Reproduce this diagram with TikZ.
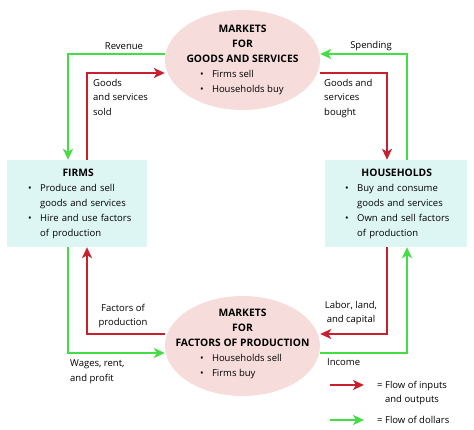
\documentclass[tikz,border=0pt]{standalone}
\usepackage{fontspec}
\setmainfont{Open Sans}
\usetikzlibrary{shapes.geometric, arrows.meta, positioning, calc}
\definecolor{flowred}{HTML}{C8202F}
\definecolor{flowgreen}{HTML}{45DD45}
\definecolor{mktpink}{HTML}{F7DCDC}
\definecolor{boxcyan}{HTML}{DDF6F4}
\newcommand{\mkbul}{\makebox[12pt][l]{\textbullet}}
\newcommand{\mkind}{\hspace*{12pt}}
\newcommand{\mkhead}[1]{{\fontsize{10.3}{15}\selectfont\bfseries #1}}

\begin{document}
\begin{tikzpicture}[x=1pt, y=-1pt,
    mkt/.style={ellipse, fill=mktpink, minimum width=155pt,
                minimum height=100pt, inner sep=0pt},
    mkttext/.style={align=center, inner sep=0pt,
                font=\fontsize{9.5}{15}\selectfont},
    agent/.style={fill=boxcyan, minimum width=140pt, minimum height=87pt,
                inner sep=0pt},
    agenttext/.style={anchor=west, inner sep=0pt, align=left,
                text width=120pt, font=\fontsize{9.5}{15}\selectfont},
    lbl/.style={inner sep=0pt, font=\fontsize{9.5}{14.5}\selectfont},
    goods/.style={draw=flowred, line width=2.6pt,
                -{Stealth[length=11pt, width=10pt, inset=3pt]}},
    dollar/.style={draw=flowgreen, line width=2.6pt,
                -{Stealth[length=11pt, width=10pt, inset=3pt]}}
  ]
    \useasboundingbox (0,0) rectangle (474,430);
    % markets
    \node[mkt] (gsmkt) at (242.5,60) {};
    \node[mkttext] (gstxt) at (gsmkt.center)
      {\mkhead{MARKETS}\\\mkhead{FOR}\\\mkhead{GOODS AND SERVICES}\\
       \makebox[85pt][l]{\mkbul Firms sell}\\
       \makebox[85pt][l]{\mkbul Households buy}};
    \node[mkt] (fpmkt) at (242.5,346) {};
    \node[mkttext] (fptxt) at (242.5,344)
      {\mkhead{MARKETS}\\\mkhead{FOR}\\\mkhead{FACTORS OF PRODUCTION}\\
       \makebox[85pt][l]{\mkbul Households sell}\\
       \makebox[85pt][l]{\mkbul Firms buy}};
    % agents
    \node[agent] (firms) at (77,203.5) {};
    \node[agenttext] (firmstxt) at (28,203.5)
      {\makebox[100pt]{\mkhead{FIRMS}}\\
       \mkbul Produce and sell\\\mkind goods and services\\
       \mkbul Hire and use factors\\\mkind of production};
    \node[agent, minimum width=142pt] (hhold) at (396,203.5) {};
    \node[agenttext] (hholdtxt) at (345,203.5)
      {\makebox[103pt]{\mkhead{HOUSEHOLDS}}\\
       \mkbul Buy and consume\\\mkind goods and services\\
       \mkbul Own and sell factors\\\mkind of production};
    % flows
    \draw[dollar] (gsmkt.west |- 0,54) -| (firms.north -| 68,0);
    \draw[goods] (firms.north -| 87,0) |- (gsmkt.west |- 0,73);
    \draw[dollar] (hhold.north -| 407,0) |- (gsmkt.east |- 0,54);
    \draw[goods] (gsmkt.east |- 0,73) -| (hhold.north -| 387,0);
    \draw[goods] (fpmkt.west |- 0,334) -| (firms.south -| 87,0);
    \draw[dollar] (firms.south -| 68,0) |- (fpmkt.west |- 0,353);
    \draw[goods] (hhold.south -| 387,0) |- (fpmkt.east |- 0,334);
    \draw[dollar] (fpmkt.east |- 0,353) -| (hhold.south -| 407,0);
    % labels
    \node[lbl] (revlbl) at (124,46) {Revenue};
    \node[lbl] (spendlbl) at (371,46) {Spending};
    \node[lbl, align=left, anchor=north west] (soldlbl) at (93,79)
      {Goods\\and services\\sold};
    \node[lbl, align=left, anchor=north west] (boughtlbl) at (324,79)
      {Goods and\\services\\bought};
    \node[lbl, align=center, anchor=north] (factlbl) at (123,304)
      {Factors of\\production};
    \node[lbl, align=left, anchor=north west] (wagelbl) at (70,360)
      {Wages, rent,\\and profit};
    \node[lbl, align=center, anchor=north] (laborlbl) at (351,301)
      {Labor, land,\\and capital};
    \node[lbl, align=left, anchor=north west] (incomelbl) at (327,359)
      {Income};
    % key
    \coordinate (kgA) at (330,385);
    \coordinate (kgB) at (364,385);
    \coordinate (kdA) at (330,420);
    \coordinate (kdB) at (364,420);
    \draw[goods] (kgA) -- (kgB);
    \draw[dollar] (kdA) -- (kdB);
    \node[lbl, align=left, anchor=north west] (keygoods) at (377,381)
      {= Flow of inputs\\\hphantom{= }and outputs};
    \node[lbl, align=left, anchor=north west] (keydollar) at (377,416)
      {= Flow of dollars};
\end{tikzpicture}
\end{document}
